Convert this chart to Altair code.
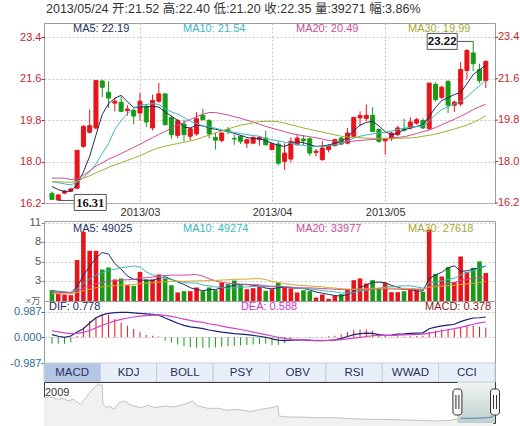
import altair as alt
import pandas as pd

# ---------------- data ----------------
trade_date = "2013/05/24"
last_volume = 39271
last_change = 3.86

opens = [16.62, 16.33, 16.63, 16.71, 16.84, 18.66, 19.27, 19.46, 21.50, 21.01,
         20.54, 20.58, 20.22, 20.22, 20.11, 20.40, 19.46, 20.62, 20.94, 19.92,
         19.14, 19.63, 19.10, 19.20, 20.01, 19.78, 19.05, 18.92, 19.38, 19.00,
         19.10, 18.80, 18.80, 18.95, 19.02, 18.52, 18.76, 18.01, 18.11, 18.73,
         18.98, 18.99, 18.40, 18.08, 18.52, 18.69, 19.02, 18.80, 19.10, 19.90,
         19.87, 20.01, 19.39, 18.90, 18.99, 19.17, 19.42, 19.46, 19.67, 19.78,
         19.43, 21.35, 20.79, 21.49, 20.45, 20.50, 21.96, 22.72, 22.00, 21.52]
highs = [16.70, 16.58, 16.76, 16.86, 18.49, 19.58, 20.26, 21.55, 21.56, 21.49,
         20.79, 20.84, 20.45, 20.28, 20.98, 20.50, 20.91, 21.42, 20.96, 19.98,
         19.85, 19.82, 19.48, 20.15, 20.30, 19.85, 19.25, 19.28, 19.50, 19.17,
         19.15, 19.00, 19.10, 19.10, 19.34, 18.80, 18.90, 18.80, 19.05, 19.15,
         19.15, 19.05, 18.55, 18.90, 18.75, 19.00, 19.08, 19.46, 19.95, 20.18,
         20.48, 20.36, 19.45, 19.02, 19.30, 19.55, 19.86, 19.92, 19.90, 19.88,
         21.41, 21.45, 21.30, 21.52, 20.65, 22.33, 22.88, 23.22, 22.25, 22.40]
lows = [16.34, 16.31, 16.58, 16.68, 16.80, 18.60, 19.22, 19.40, 20.80, 20.33,
        20.18, 20.15, 20.00, 19.62, 19.78, 19.50, 19.35, 20.55, 19.58, 18.99,
        19.02, 18.88, 18.93, 19.12, 19.78, 19.00, 18.52, 18.83, 19.18, 18.73,
        18.76, 18.59, 18.75, 18.70, 18.70, 18.50, 17.83, 17.64, 17.96, 18.70,
        18.72, 18.25, 18.22, 18.05, 18.40, 18.65, 18.72, 18.75, 19.05, 19.53,
        19.75, 19.28, 18.82, 18.30, 18.90, 19.10, 19.30, 19.40, 19.60, 19.42,
        19.38, 20.60, 20.70, 20.11, 20.15, 20.40, 21.57, 21.93, 21.40, 21.20]
closes = [16.36, 16.55, 16.72, 16.81, 18.49, 19.53, 19.56, 21.52, 21.23, 20.76,
          20.62, 20.18, 20.28, 19.98, 20.62, 19.72, 20.65, 20.94, 19.60, 19.17,
          19.78, 19.17, 19.43, 19.86, 19.82, 19.20, 18.93, 19.24, 19.30, 18.98,
          18.88, 18.95, 19.05, 19.05, 18.73, 18.78, 17.93, 18.37, 18.88, 19.02,
          18.90, 18.37, 18.45, 18.59, 18.69, 18.95, 18.76, 19.24, 19.92, 20.00,
          20.01, 19.31, 18.88, 18.98, 19.24, 19.46, 19.36, 19.72, 19.82, 19.46,
          21.41, 20.69, 21.23, 20.45, 20.58, 22.00, 22.83, 22.25, 21.52, 22.35]
# volume in 万 (10k shares)
volumes = [1.52, 1.06, 0.91, 0.82, 5.75, 9.73, 7.06, 7.06, 4.43, 4.71,
           3.03, 3.17, 2.23, 2.13, 4.10, 3.03, 3.03, 3.73, 3.17, 2.23,
           1.20, 1.38, 1.38, 1.90, 1.38, 1.90, 1.52, 2.60, 2.37, 2.88,
           2.23, 1.66, 1.81, 1.99, 1.43, 1.66, 2.56, 1.85, 1.76, 1.20,
           1.52, 1.38, 0.49, 0.91, 0.30, 0.73, 0.96, 1.66, 2.93, 3.17,
           2.46, 2.93, 1.76, 2.56, 1.24, 1.24, 1.38, 1.62, 1.52, 1.29,
           10.05, 3.82, 3.45, 4.76, 2.65, 6.26, 4.06, 4.67, 5.56, 3.93]

ma5 = [16.92, 16.78, 16.70, 16.72, 17.00, 17.55, 18.23, 19.15, 20.05, 20.52,
       20.75, 20.88, 20.60, 20.35, 20.37, 20.38, 20.40, 20.37, 20.15, 19.98,
       19.78, 19.50, 19.46, 19.58, 19.55, 19.46, 19.40, 19.35, 19.31, 19.22,
       19.14, 19.05, 19.00, 19.00, 18.90, 18.80, 18.70, 18.66, 18.78, 18.87,
       18.82, 18.73, 18.66, 18.68, 18.72, 18.80, 18.88, 19.05, 19.35, 19.58,
       19.70, 19.75, 19.55, 19.30, 19.17, 19.22, 19.39, 19.45, 19.53, 19.60,
       19.95, 20.35, 20.65, 20.78, 20.91, 21.00, 21.38, 21.78, 21.99, 22.19]
ma10 = [17.13, 17.08, 17.03, 16.99, 17.10, 17.30, 17.55, 17.90, 18.35, 18.78,
        19.40, 19.78, 20.08, 20.30, 20.45, 20.48, 20.52, 20.48, 20.30, 20.16,
        20.06, 19.92, 19.75, 19.65, 19.55, 19.50, 19.45, 19.38, 19.31, 19.27,
        19.22, 19.17, 19.13, 19.10, 19.00, 18.95, 18.90, 18.85, 18.80, 18.74,
        18.70, 18.66, 18.66, 18.66, 18.68, 18.72, 18.77, 18.90, 19.02, 19.10,
        19.16, 19.20, 19.24, 19.28, 19.33, 19.39, 19.45, 19.49, 19.52, 19.55,
        19.75, 20.04, 20.26, 20.38, 20.50, 20.62, 20.80, 21.06, 21.30, 21.54]
ma20 = [17.28, 17.28, 17.28, 17.22, 17.25, 17.40, 17.60, 17.80, 17.95, 18.10,
        18.22, 18.35, 18.48, 18.62, 18.75, 18.90, 19.04, 19.18, 19.31, 19.45,
        19.58, 19.70, 19.83, 19.95, 20.06, 20.13, 20.13, 20.08, 20.02, 19.95,
        19.88, 19.80, 19.72, 19.62, 19.53, 19.45, 19.38, 19.30, 19.22, 19.17,
        19.12, 19.08, 19.03, 18.98, 18.92, 18.88, 18.85, 18.86, 18.89, 18.92,
        18.94, 18.96, 18.98, 19.00, 19.03, 19.05, 19.08, 19.14, 19.22, 19.30,
        19.37, 19.48, 19.60, 19.72, 19.84, 19.97, 20.10, 20.26, 20.38, 20.49]
ma30 = [17.13, 17.12, 17.11, 17.10, 17.15, 17.28, 17.38, 17.52, 17.62, 17.75,
        17.85, 17.95, 18.05, 18.15, 18.26, 18.38, 18.50, 18.60, 18.67, 18.73,
        18.78, 18.84, 18.90, 18.96, 19.06, 19.15, 19.25, 19.33, 19.42, 19.50,
        19.58, 19.63, 19.68, 19.73, 19.75, 19.75, 19.73, 19.67, 19.60, 19.53,
        19.46, 19.40, 19.34, 19.28, 19.22, 19.16, 19.10, 19.07, 19.05, 19.04,
        19.02, 19.01, 19.00, 19.00, 19.00, 19.01, 19.02, 19.03, 19.05, 19.10,
        19.14, 19.20, 19.26, 19.34, 19.41, 19.50, 19.58, 19.70, 19.83, 19.99]

vma5 = [1.42, 1.36, 1.26, 1.14, 2.01, 3.65, 4.85, 6.08, 6.81, 6.60,
        5.26, 4.48, 3.51, 3.05, 2.93, 2.93, 2.90, 3.20, 3.41, 3.04,
        2.67, 2.34, 1.87, 1.62, 1.45, 1.59, 1.62, 1.86, 1.95, 2.25,
        2.32, 2.35, 2.19, 2.11, 1.82, 1.71, 1.89, 1.90, 1.85, 1.81,
        1.78, 1.54, 1.27, 1.10, 0.93, 0.77, 0.69, 0.92, 1.33, 1.89,
        2.24, 2.63, 2.65, 2.58, 2.19, 1.95, 1.64, 1.61, 1.40, 1.41,
        3.17, 3.66, 4.03, 4.67, 4.95, 4.19, 4.24, 4.48, 4.64, 4.90]
vma10 = [1.32, 1.30, 1.26, 1.21, 1.66, 2.50, 3.08, 3.65, 3.96, 4.31,
         4.46, 4.67, 4.80, 4.93, 4.77, 4.10, 3.69, 3.36, 3.23, 2.99,
         2.80, 2.62, 2.54, 2.52, 2.24, 2.13, 1.98, 1.87, 1.79, 1.85,
         1.95, 1.98, 2.03, 2.03, 2.04, 2.02, 2.12, 2.04, 1.98, 1.82,
         1.74, 1.72, 1.58, 1.48, 1.37, 1.28, 1.12, 1.10, 1.21, 1.41,
         1.50, 1.66, 1.79, 1.95, 2.04, 2.09, 2.13, 2.13, 1.99, 1.80,
         2.56, 2.65, 2.82, 3.04, 3.18, 3.68, 3.95, 4.25, 4.66, 4.92]
vma20 = [1.22, 1.21, 1.19, 1.18, 1.40, 1.83, 2.12, 2.42, 2.58, 2.75,
         2.84, 2.94, 2.99, 3.04, 3.19, 3.28, 3.37, 3.50, 3.59, 3.65,
         3.63, 3.65, 3.67, 3.72, 3.50, 3.11, 2.84, 2.61, 2.51, 2.42,
         2.38, 2.30, 2.28, 2.27, 2.14, 2.07, 2.05, 1.96, 1.88, 1.83,
         1.85, 1.85, 1.80, 1.76, 1.70, 1.65, 1.62, 1.57, 1.60, 1.61,
         1.62, 1.69, 1.69, 1.71, 1.70, 1.68, 1.62, 1.61, 1.60, 1.61,
         2.03, 2.15, 2.30, 2.49, 2.61, 2.89, 3.04, 3.19, 3.32, 3.40]
vma30 = [1.02, 1.02, 1.02, 1.02, 1.17, 1.46, 1.66, 1.86, 1.98, 2.10,
         2.17, 2.24, 2.28, 2.32, 2.42, 2.49, 2.56, 2.65, 2.72, 2.76,
         2.77, 2.78, 2.80, 2.83, 2.84, 2.87, 2.89, 2.94, 2.98, 3.05,
         3.07, 3.09, 3.12, 3.16, 3.02, 2.75, 2.60, 2.42, 2.33, 2.22,
         2.17, 2.11, 2.05, 2.01, 1.88, 1.81, 1.74, 1.67, 1.66, 1.69,
         1.73, 1.79, 1.80, 1.82, 1.82, 1.79, 1.79, 1.76, 1.73, 1.68,
         1.94, 2.01, 2.06, 2.15, 2.20, 2.35, 2.40, 2.49, 2.62, 2.76]
vol_ma_last = [49025, 49274, 33977, 27618]

dif = [0.10, 0.04, 0.00, 0.05, 0.20, 0.33, 0.55, 0.75, 0.86, 0.92,
       0.95, 0.96, 0.96, 0.94, 0.92, 0.90, 0.88, 0.85, 0.74, 0.64,
       0.54, 0.46, 0.40, 0.37, 0.33, 0.28, 0.24, 0.20, 0.17, 0.14,
       0.12, 0.10, 0.07, 0.04, 0.00, -0.06, -0.11, -0.13, -0.11, -0.10,
       -0.10, -0.12, -0.13, -0.13, -0.12, -0.10, -0.04, 0.03, 0.10, 0.14,
       0.16, 0.15, 0.10, 0.07, 0.08, 0.12, 0.13, 0.15, 0.16, 0.17,
       0.33, 0.39, 0.44, 0.47, 0.50, 0.60, 0.68, 0.74, 0.75, 0.778]
dea = [0.25, 0.21, 0.17, 0.14, 0.15, 0.19, 0.26, 0.36, 0.46, 0.55,
       0.63, 0.69, 0.74, 0.78, 0.81, 0.83, 0.85, 0.86, 0.84, 0.80,
       0.75, 0.70, 0.65, 0.60, 0.57, 0.52, 0.48, 0.43, 0.38, 0.34,
       0.30, 0.25, 0.20, 0.15, 0.10, 0.05, 0.00, -0.04, -0.08, -0.10,
       -0.10, -0.11, -0.12, -0.12, -0.12, -0.11, -0.09, -0.06, -0.03, 0.00,
       0.03, 0.06, 0.07, 0.07, 0.07, 0.08, 0.09, 0.10, 0.11, 0.12,
       0.16, 0.20, 0.25, 0.29, 0.33, 0.38, 0.44, 0.50, 0.55, 0.588]
macd_bar = [-0.25, -0.25, -0.25, -0.20, 0.05, 0.38, 0.63, 0.76, 0.86, 0.86,
            0.70, 0.57, 0.44, 0.32, 0.19, 0.09, 0.06, 0.03, -0.12, -0.20,
            -0.28, -0.34, -0.38, -0.40, -0.40, -0.40, -0.38, -0.36, -0.34, -0.33,
            -0.32, -0.30, -0.28, -0.27, -0.25, -0.30, -0.30, -0.22, -0.08, -0.02,
            0.00, -0.02, -0.02, 0.02, 0.04, 0.06, 0.12, 0.20, 0.27, 0.30,
            0.30, 0.25, 0.12, 0.05, 0.02, 0.04, 0.03, 0.04, 0.05, 0.06,
            0.20, 0.25, 0.30, 0.32, 0.30, 0.38, 0.44, 0.45, 0.40, 0.378]

month_pos = [14, 35, 53]
month_labels = ["2013/03", "2013/04", "2013/05"]
price_ticks = [16.2, 18.0, 19.8, 21.6, 23.4]
vol_ticks = [2.75, 5.5, 8.25, 11]
vol_tick_labels = ["3", "5", "8", "11"]
macd_ticks = [-0.987, 0.0, 0.987]
macd_tick_labels = ["-0.987", "0.000", "0.987"]
tabs = ["MACD", "KDJ", "BOLL", "PSY", "OBV", "RSI", "WWAD", "CCI"]
active_tab = "MACD"

# navigator: price history since 2009 (months since Jan 2009, price)
nav_t = [0.0, 0.8, 1.6, 2.3, 2.8, 3.4, 4.0, 4.3, 4.9, 5.5,
         6.1, 6.4, 6.6, 6.8, 6.9, 7.3, 7.6, 8.2, 8.8, 9.4,
         10.0, 10.5, 11.4, 12.2, 12.9, 14.1, 15.2, 16.4, 17.4, 18.0,
         19.2, 20.4, 21.5, 22.7, 24.2, 25.4, 26.6, 27.4, 27.5, 28.6,
         30.1, 32.1, 34.0, 35.9, 37.9, 39.8, 41.8, 43.8, 45.7, 47.7,
         48.8, 50.4, 52.0, 52.6]
nav_v = [51.6, 52.7, 49.3, 50.8, 46.7, 49.3, 44.2, 41.8, 51.6, 61.6,
         69.1, 72.5, 69.1, 71.6, 41.8, 36.8, 39.3, 34.4, 44.2, 46.7,
         41.8, 39.3, 36.8, 40.8, 36.8, 39.3, 37.8, 41.8, 46.7, 39.3,
         35.9, 35.9, 32.9, 34.4, 30.8, 34.4, 36.8, 39.3, 24.4, 22.9,
         22.9, 21.9, 21.9, 20.4, 19.5, 19.5, 18.5, 18.0, 17.0, 18.0,
         21.0, 21.0, 21.9, 23.4]
nav_range = [0, 52.8]
window_start, window_end = 48.4, 52.8

# ---------------- styling ----------------
FONT = "Liberation Sans, Noto Sans CJK SC, sans-serif"
RED, GREEN = "#e8141b", "#179b17"
PRICE_LAB = "#c4262c"
GRID = "#c8c8c8"
MA_COLORS = ["#1c2f62", "#3cb8c0", "#cc4c98", "#a2ad30"]
VMA_COLORS = ["#1c2f62", "#3cb8c0", "#cc4c98", "#d9a92a"]
W = 451

n = len(closes)
df = pd.DataFrame({
    "i": list(range(n)), "open": opens, "high": highs, "low": lows, "close": closes,
    "vol": volumes, "ma5": ma5, "ma10": ma10, "ma20": ma20, "ma30": ma30,
    "vma5": vma5, "vma10": vma10, "vma20": vma20, "vma30": vma30,
    "dif": dif, "dea": dea, "macd": macd_bar,
})
df["dir"] = ["up" if c >= o else "down" for o, c in zip(opens, closes)]
df["body_lo"] = [min(o, c) for o, c in zip(opens, closes)]
df["body_hi"] = [max(o, c) for o, c in zip(opens, closes)]
df["hdir"] = ["up" if m >= 0 else "down" for m in macd_bar]

one = pd.DataFrame({"k": [0]})


def tick_expr(values, labels):
    expr = "''"
    for v, lab in zip(values, labels):
        expr = f"abs(datum.value - ({v})) < 1e-6 ? '{lab}' : ({expr})"
    return expr


def txt(text, x, y, color, size=11, align="left", font=FONT, weight="normal"):
    return alt.Chart(one).mark_text(align=align, baseline="middle", fontSize=size,
                                    color=color, font=font, fontWeight=weight).encode(
        x=alt.value(x), y=alt.value(y), text=alt.value(text))


x_scale = alt.Scale(domain=[-0.47, n - 0.33], nice=False, zero=False)
dir_scale = alt.Scale(domain=["up", "down"], range=[RED, GREEN])
base = alt.Chart(df)

# ---------------- price panel ----------------
H_P = 180
price_scale = alt.Scale(domain=[16.2, 24.02], nice=False, zero=False)
x_price_axis = alt.Axis(
    values=month_pos, labelExpr=tick_expr(month_pos, month_labels), grid=True,
    gridDash=[2, 2], gridColor=GRID, ticks=False, domain=False, labelFontSize=11,
    labelColor="#333333", labelPadding=3, labelFlush=False, title=None)
price_axis = alt.Axis(values=price_ticks, format=".1f", labelColor=PRICE_LAB, labelFontSize=11,
                      tickSize=3, tickColor=PRICE_LAB, labelPadding=0, domain=False,
                      grid=True, gridDash=[2, 2], gridColor=GRID, title=None)


def px(field="i:Q"):
    return alt.X(field, scale=x_scale, axis=x_price_axis)


def py(field):
    return alt.Y(field, scale=price_scale, axis=price_axis)


wick = base.mark_rule(strokeWidth=1).encode(
    x=px(), y=py("low:Q"), y2="high:Q",
    color=alt.Color("dir:N", scale=dir_scale, legend=None))
body = base.mark_bar(size=4, strokeWidth=1, orient="vertical").encode(
    x=px(), y=py("body_lo:Q"), y2="body_hi:Q",
    color=alt.Color("dir:N", scale=dir_scale, legend=None),
    stroke=alt.Stroke("dir:N", scale=dir_scale, legend=None))
ma_lines = [base.mark_line(color=c, strokeWidth=1).encode(x=px(), y=py(f"{f}:Q"))
            for f, c in zip(["ma5", "ma10", "ma20", "ma30"], MA_COLORS)]

tick_df = pd.DataFrame({"v": price_ticks, "lab": [f"{v:.1f}" for v in price_ticks]})
right_lab = alt.Chart(tick_df).mark_text(align="left", baseline="middle", fontSize=11,
                                         color=PRICE_LAB, font=FONT).encode(
    x=alt.value(W + 3), y=py("v:Q"), text="lab:N")
right_tick = alt.Chart(tick_df).mark_rule(color=PRICE_LAB).encode(
    x=alt.value(W), x2=alt.value(W + 3), y=py("v:Q"))

ma_vals = [ma5[-1], ma10[-1], ma20[-1], ma30[-1]]
ma_names = ["MA5", "MA10", "MA20", "MA30"]
leg_x = [29, 139, 252, 364]
price_leg = [txt(f"{nm}: {v:.2f}", lx, 5.5, c) for nm, v, lx, c in zip(ma_names, ma_vals, leg_x, MA_COLORS)]

title_text = (f"{trade_date} 开:{opens[-1]:.2f} 高:{highs[-1]:.2f} 低:{lows[-1]:.2f} "
              f"收:{closes[-1]:.2f} 量:{last_volume} 幅:{last_change:.2f}%")
title = txt(title_text, 2, -14, "#333333", size=12.5)

lo_i = lows.index(min(lows))
hi_i = highs.index(max(highs))
lo_df = pd.DataFrame({"i": [lo_i], "p": [lows[lo_i]], "lab": [f"{lows[lo_i]:.2f}"]})
hi_df = pd.DataFrame({"i": [hi_i], "p": [highs[hi_i]], "lab": [f"{highs[hi_i]:.2f}"]})
BOX32 = "M-1,-0.5L1,-0.5L1,0.5L-1,0.5Z"
BOX30 = "M-1,-0.5333L1,-0.5333L1,0.5333L-1,0.5333Z"
lo_line = alt.Chart(lo_df).mark_rule(color="#555555", x2Offset=16).encode(
    x=px(), x2="i:Q", y=py("p:Q"))
lo_box = alt.Chart(lo_df).mark_point(shape=BOX32, size=1024, filled=True, fill="white", opacity=1,
                                     stroke="#555555", strokeWidth=1, xOffset=32, yOffset=2).encode(
    x=px(), y=py("p:Q"))
lo_txt = alt.Chart(lo_df).mark_text(dx=32, dy=2.5, font="Liberation Serif", fontWeight="bold",
                                    fontSize=12.5, color="#111111").encode(
    x=px(), y=py("p:Q"), text="lab:N")
hi_line = alt.Chart(hi_df).mark_rule(color="#555555", x2Offset=-16).encode(
    x=px(), x2="i:Q", y=py("p:Q"))
hi_box = alt.Chart(hi_df).mark_point(shape=BOX30, size=900, filled=True, fill="white", opacity=1,
                                     stroke="#555555", strokeWidth=1, xOffset=-31).encode(
    x=px(), y=py("p:Q"))
hi_txt = alt.Chart(hi_df).mark_text(dx=-31, dy=0.5, fontWeight="bold", fontSize=11.5,
                                    color="#111111", font=FONT).encode(
    x=px(), y=py("p:Q"), text="lab:N")

# invisible anchor fixing the top-left corner of the page
anchor = alt.Chart(one).mark_rule(color="white", strokeWidth=1).encode(
    x=alt.value(-42.5), x2=alt.value(0), y=alt.value(-21.5))

price = alt.layer(wick, body, *ma_lines, right_tick, right_lab, *price_leg, title,
                  lo_line, lo_box, lo_txt, hi_line, hi_box, hi_txt, anchor).properties(
    width=W, height=H_P)

spacer = alt.Chart(one).mark_point(opacity=0).encode(
    x=alt.value(0), y=alt.value(0)).properties(
    width=W, height=18, view=alt.ViewBackground(stroke="transparent"))

# ---------------- volume panel ----------------
H_V = 80
vol_scale = alt.Scale(domain=[0, 11.25], nice=False)
x_vol_axis = alt.Axis(values=month_pos, labels=False, ticks=False, domain=False, grid=True,
                      gridDash=[2, 2], gridColor=GRID, title=None)
vol_axis = alt.Axis(values=vol_ticks, labels=False, tickSize=3, tickColor="#888888",
                    domain=False, grid=True, gridDash=[2, 2], gridColor=GRID, title=None)


def vx():
    return alt.X("i:Q", scale=x_scale, axis=x_vol_axis)


def vy(field):
    return alt.Y(field, scale=vol_scale, axis=vol_axis)


vbars = base.mark_bar(size=4.6, orient="vertical").encode(
    x=vx(), y=vy("vol:Q"), color=alt.Color("dir:N", scale=dir_scale, legend=None))
vma_lines = [base.mark_line(color=c, strokeWidth=1).encode(x=vx(), y=vy(f"{f}:Q"))
             for f, c in zip(["vma5", "vma10", "vma20", "vma30"], VMA_COLORS)]
vtick_df = pd.DataFrame({"v": vol_ticks, "lab": vol_tick_labels})
vol_lab = alt.Chart(vtick_df).mark_text(align="right", baseline="middle", fontSize=11,
                                        color="#555555", font=FONT).encode(
    x=alt.value(-3), y=vy("v:Q"), text="lab:N")
vol_leg = [txt(f"{nm}: {v}", lx, 7.5, c) for nm, v, lx, c in
           zip(ma_names, vol_ma_last, leg_x, MA_COLORS)]
unit = txt("×万", -11, 80, "#666666", size=9.5, align="center")
volume = alt.layer(vbars, *vma_lines, vol_lab, *vol_leg, unit).properties(width=W, height=H_V)

# ---------------- MACD panel ----------------
H_M = 62
macd_scale = alt.Scale(domain=[-0.987, 1.393], nice=False, zero=False)
macd_axis = alt.Axis(values=macd_ticks, labelExpr=tick_expr(macd_ticks, macd_tick_labels),
                     labelColor="#2b6f97", labelFontSize=11, tickSize=3, tickColor="#2b6f97",
                     labelPadding=0, domain=False, grid=True, gridDash=[2, 2], gridColor=GRID,
                     title=None)
x_none = alt.X("i:Q", scale=x_scale, axis=None)


def my(field):
    return alt.Y(field, scale=macd_scale, axis=macd_axis)


hist = base.mark_bar(size=1, orient="vertical").encode(
    x=x_none, y=my("macd:Q"),
    color=alt.Color("hdir:N", scale=alt.Scale(domain=["up", "down"], range=["#9a1414", "#22a022"]),
                    legend=None))
dif_line = base.mark_line(color="#1d2278", strokeWidth=1.2).encode(x=x_none, y=my("dif:Q"))
dea_line = base.mark_line(color="#d442c8", strokeWidth=1.2).encode(x=x_none, y=my("dea:Q"))
macd_leg = [
    txt(f"DIF: {dif[-1]:.3f}", 5, 6, "#1d2a5e"),
    txt(f"DEA: {dea[-1]:.3f}", 225, 6, "#cc33cc", align="center"),
    txt(f"MACD: {macd_bar[-1]:.3f}", 447, 6, "#8b1a1a", align="right"),
]
macd = alt.layer(hist, dif_line, dea_line, *macd_leg).properties(width=W, height=H_M)

# ---------------- tab bar ----------------
tab_df = pd.DataFrame({"tab": tabs, "sel": [t == active_tab for t in tabs]})
tab_x = alt.X("tab:N", sort=tabs, scale=alt.Scale(paddingInner=0, paddingOuter=0), axis=None)
tab_rect = alt.Chart(tab_df).mark_rect(stroke="#c3cde0", strokeWidth=1).encode(
    x=tab_x, y=alt.value(0), y2=alt.value(19),
    fill=alt.condition(alt.datum.sel, alt.value("#b5c6e5"), alt.value("#e9eff8")))
tab_txt = alt.Chart(tab_df).mark_text(fontSize=11.5, color="#27305a", font=FONT).encode(
    x=tab_x, y=alt.value(9.8), text="tab:N")
tabbar = alt.layer(tab_rect, tab_txt).properties(width=W, height=19)

# ---------------- navigator ----------------
nav_df = pd.DataFrame({"t": nav_t, "v": nav_v})
nav_xs = alt.Scale(domain=nav_range, nice=False, zero=False)
nav_x = alt.X("t:Q", scale=nav_xs, axis=None)
nav_y = alt.Y("v:Q", scale=alt.Scale(domain=[14, 75], nice=False, zero=False), axis=None)
nav_area = alt.Chart(nav_df).mark_area(color="#f1f1f1").encode(x=nav_x, y=nav_y, y2=alt.value(41))
nav_line = alt.Chart(nav_df).mark_line(color="#c2c2c2", strokeWidth=1).encode(x=nav_x, y=nav_y)
win_df = pd.DataFrame({"ws": [window_start], "we": [window_end]})
grad = alt.LinearGradient(gradient="linear",
                          stops=[alt.GradientStop(color="#eef3f2", offset=0),
                                 alt.GradientStop(color="#bacdc9", offset=1)],
                          x1=0, x2=0, y1=0, y2=1)
win_rect = alt.Chart(win_df).mark_rect(fill=grad, opacity=0.9).encode(
    x=alt.X("ws:Q", scale=nav_xs, axis=None), x2="we:Q", y=alt.value(0), y2=alt.value(41))
nav_sel = alt.Chart(nav_df[nav_df["t"] >= window_start]).mark_line(
    color="#4f82b8", strokeWidth=1).encode(x=nav_x, y=nav_y)
edge_df = pd.DataFrame({"e": [window_start, window_end]})
edge_x = alt.X("e:Q", scale=nav_xs, axis=None)
handles = alt.Chart(edge_df).mark_rect(xOffset=-4.5, x2Offset=4.5, cornerRadius=3, fill="#f7f7f7",
                                       stroke="#333333", strokeWidth=1).encode(
    x=edge_x, x2="e:Q", y=alt.value(7), y2=alt.value(33))
grip1 = alt.Chart(edge_df).mark_rule(xOffset=-1.5, color="#333333").encode(
    x=edge_x, y=alt.value(13), y2=alt.value(27))
grip2 = alt.Chart(edge_df).mark_rule(xOffset=1.5, color="#333333").encode(
    x=edge_x, y=alt.value(13), y2=alt.value(27))
nav_label = txt("2009", 1, 10.7, "#333333", size=11)
nav = alt.layer(nav_area, nav_line, win_rect, nav_sel, handles, grip1, grip2, nav_label).properties(
    width=W, height=41, view=alt.ViewBackground(stroke="#3a3a3a"))

chart = alt.vconcat(price, spacer, volume, macd, tabbar, nav, spacing=0, bounds="flush",
                    padding=0).configure(font=FONT).configure_view(
    stroke="#9c9c9c", strokeWidth=1).configure_axis(labelFont=FONT)

chart.save("out.html", embed_options={"renderer": "svg", "actions": False})
